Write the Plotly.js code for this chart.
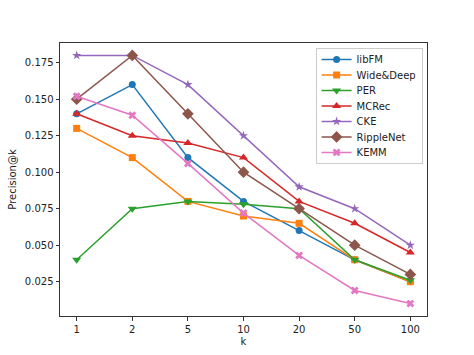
<!DOCTYPE html>
<html><head><meta charset="utf-8">
<script src="https://cdn.plot.ly/plotly-3.0.1.min.js"></script>
<style>body{margin:0;padding:0;background:#fff}</style>
</head><body><div id="chart" style="width:474px;height:355px"></div>
<script>
const categories = ["1","2","5","10","20","50","100"];
const libFM =     [0.140, 0.160, 0.110, 0.080, 0.060, 0.040, 0.025];
const wideDeep =  [0.130, 0.110, 0.080, 0.070, 0.065, 0.040, 0.025];
const per =       [0.040, 0.075, 0.080, 0.078, 0.075, 0.040, 0.026];
const mcrec =     [0.140, 0.125, 0.120, 0.110, 0.080, 0.065, 0.045];
const cke =       [0.180, 0.180, 0.160, 0.125, 0.090, 0.075, 0.050];
const rippleNet = [0.150, 0.180, 0.140, 0.100, 0.075, 0.050, 0.030];
const kemm =      [0.152, 0.139, 0.106, 0.072, 0.043, 0.019, 0.010];
const yTicks = [0.025, 0.050, 0.075, 0.100, 0.125, 0.150, 0.175];

const series = [
  ["libFM", libFM, "#1f77b4", "circle", 7],
  ["Wide&Deep", wideDeep, "#ff7f0e", "square", 7],
  ["PER", per, "#2ca02c", "triangle-down", 8],
  ["MCRec", mcrec, "#d62728", "triangle-up", 8],
  ["CKE", cke, "#9467bd", "star", 7],
  ["RippleNet", rippleNet, "#8c564b", "diamond", 9],
  ["KEMM", kemm, "#e377c2", "x", 7]
];
const traces = series.map(s => ({
  x: categories, y: s[1], name: s[0], type: "scatter", mode: "lines+markers",
  line: {color: s[2], width: 1.5},
  marker: {color: s[2], symbol: s[3], size: s[4], line: {width: 0}}
}));
const font = {family: "DejaVu Sans", size: 10, color: "#222"};
const layout = {
  width: 474, height: 355,
  margin: {l: 60, r: 47, t: 43, b: 39},
  paper_bgcolor: "#fff", plot_bgcolor: "#fff",
  font: font,
  showlegend: true,
  legend: {x: 0.988, y: 0.982, xanchor: "right", yanchor: "top",
    bgcolor: "rgba(255,255,255,0.8)", bordercolor: "#ccc", borderwidth: 1,
    font: {family: "DejaVu Sans", size: 10, color: "#222"}, tracegroupgap: 0, itemwidth: 30},
  xaxis: {type: "category", range: [-0.3, 6.3], showgrid: false, zeroline: false,
    showline: true, mirror: true, linecolor: "#333", linewidth: 1,
    ticks: "outside", ticklen: 3.5, tickcolor: "#333",
    title: {text: "k", font: font, standoff: 4}},
  yaxis: {range: [0.0015, 0.1885], showgrid: false, zeroline: false,
    showline: true, mirror: true, linecolor: "#333", linewidth: 1,
    ticks: "outside", ticklen: 3.5, tickcolor: "#333",
    tickvals: yTicks, ticktext: yTicks.map(v => v.toFixed(3)),
    title: {text: "Precision@k", font: font, standoff: 6}}
};
Plotly.newPlot("chart", traces, layout, {displayModeBar: false, staticPlot: true}).then(() => {
  // tighten legend row spacing to match the compact reference legend
  const items = document.querySelectorAll(".legend .traces");
  if (items.length < 2) return;
  const parse = el => {
    const m = /translate\(\s*([-\d.]+)[ ,]+([-\d.]+)/.exec(el.getAttribute("transform") || "");
    return m ? [parseFloat(m[1]), parseFloat(m[2])] : [0, 0];
  };
  const first = parse(items[0]);
  const second = parse(items[1]);
  const oldStep = second[1] - first[1];
  const step = 15.5;
  const startY = first[1] - 4;
  items.forEach((el, i) => {
    const p = parse(el);
    el.setAttribute("transform", "translate(" + p[0] + "," + (startY + i * step) + ")");
  });
  const bg = document.querySelector(".legend rect.bg");
  if (bg) {
    const h = parseFloat(bg.getAttribute("height"));
    bg.setAttribute("height", h - (oldStep - step) * (items.length - 1) - 8);
  }
});
</script></body></html>
